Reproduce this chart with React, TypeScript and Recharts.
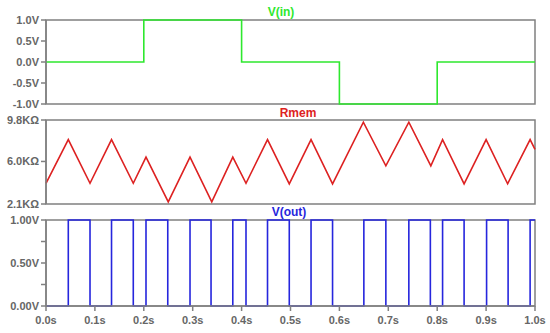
import React from "react";
import { LineChart, Line, XAxis, YAxis, ReferenceArea } from "recharts";

// V(in): step input (stepAfter points)
const vinTimes = [0, 0.2, 0.4, 0.6, 0.8, 1.0];
const vinValues = [0, 1, 0, -1, 0, 0];

// Rmem (KΩ): triangle wave
const rmemTimes = [0, 0.0456, 0.09, 0.134, 0.1785, 0.2045, 0.25, 0.2945, 0.339, 0.382, 0.409, 0.453, 0.4975, 0.542, 0.586, 0.649, 0.695, 0.742, 0.787, 0.811, 0.855, 0.9, 0.944, 0.99, 1.0];
const rmemValues = [4.0, 8.0, 4.0, 8.0, 4.0, 6.4, 2.3, 6.4, 2.3, 6.4, 4.0, 8.0, 3.95, 8.0, 3.95, 9.6, 5.6, 9.6, 5.6, 8.0, 3.95, 8.0, 3.95, 8.0, 7.1];

// V(out): square output (stepAfter points)
const voutTimes = [0, 0.0456, 0.09, 0.134, 0.1785, 0.2045, 0.249, 0.2945, 0.3375, 0.382, 0.409, 0.453, 0.4975, 0.542, 0.586, 0.65, 0.695, 0.742, 0.786, 0.811, 0.855, 0.901, 0.945, 0.99, 1.0];
const voutValues = [0, 1, 0, 1, 0, 1, 0, 1, 0, 1, 0, 1, 0, 1, 0, 1, 0, 1, 0, 1, 0, 1, 0, 1, 1];

const xTicks = [0, 0.1, 0.2, 0.3, 0.4, 0.5, 0.6, 0.7, 0.8, 0.9, 1.0];
const vinTicks = [-1, -0.5, 0, 0.5, 1];
const rmemTicks = [2.1, 6.0, 9.8];
const voutTicks = [0, 0.25, 0.5, 0.75, 1];
const voutLabeled = [0, 0.5, 1];

const vinData = vinTimes.map((t, i) => ({ t, v: vinValues[i] }));
const rmemData = rmemTimes.map((t, i) => ({ t, v: rmemValues[i] }));
const voutData = voutTimes.map((t, i) => ({ t, v: voutValues[i] }));

const GRAY = "#808080";
const tickStyle = { fontSize: 11, fontWeight: "bold" as const, fill: "#666666", fontFamily: "Liberation Sans, Arial, sans-serif" };

const titleStyle = (cx: number, cy: number, color: string): React.CSSProperties => ({
  position: "absolute",
  left: cx - 50,
  width: 100,
  top: cy - 7,
  height: 14,
  lineHeight: "14px",
  textAlign: "center",
  fontSize: 12,
  fontWeight: "bold",
  color,
  fontFamily: "Liberation Sans, Arial, sans-serif",
});

export default function App() {
  return (
    <div style={{ position: "absolute", left: 0, top: 0, width: 550, height: 333, background: "#fff", fontFamily: "Liberation Sans, Arial, sans-serif" }}>
      <LineChart width={550} height={110} data={vinData} margin={{ top: 20, right: 15, bottom: 6, left: 0 }}>
        <XAxis dataKey="t" type="number" domain={[0, 1]} ticks={xTicks} hide />
        <YAxis
          type="number"
          domain={[-1, 1]}
          ticks={vinTicks}
          width={46}
          tick={tickStyle}
          tickSize={5}
          tickLine={{ stroke: GRAY, strokeWidth: 1.5 }}
          axisLine={{ stroke: GRAY, strokeWidth: 1.5 }}
          tickFormatter={(v: number) => v.toFixed(1) + "V"}
          interval={0}
        />
        <ReferenceArea x1={0} x2={1} y1={-1} y2={1} fill="none" fillOpacity={0} stroke={GRAY} strokeWidth={1.5} />
        <Line type="stepAfter" dataKey="v" stroke="#2ee82e" strokeWidth={1.6} dot={false} isAnimationActive={false} />
      </LineChart>
      <LineChart width={550} height={100} data={rmemData} margin={{ top: 10, right: 15, bottom: 6, left: 0 }}>
        <XAxis dataKey="t" type="number" domain={[0, 1]} ticks={xTicks} hide />
        <YAxis
          type="number"
          domain={[2.1, 9.8]}
          ticks={rmemTicks}
          width={46}
          tick={tickStyle}
          tickSize={5}
          tickLine={{ stroke: GRAY, strokeWidth: 1.5 }}
          axisLine={{ stroke: GRAY, strokeWidth: 1.5 }}
          tickFormatter={(v: number) => v.toFixed(1) + "KΩ"}
          interval={0}
          allowDataOverflow
        />
        <ReferenceArea x1={0} x2={1} y1={2.1} y2={9.8} fill="none" fillOpacity={0} stroke={GRAY} strokeWidth={1.5} />
        <Line type="linear" dataKey="v" stroke="#dd2222" strokeWidth={1.6} dot={false} isAnimationActive={false} />
      </LineChart>
      <LineChart width={550} height={123} data={voutData} margin={{ top: 10, right: 15, bottom: 0, left: 0 }}>
        <XAxis
          dataKey="t"
          type="number"
          domain={[0, 1]}
          ticks={xTicks}
          height={27}
          tick={tickStyle}
          tickSize={5}
          tickMargin={5}
          tickLine={{ stroke: GRAY, strokeWidth: 1.5 }}
          axisLine={{ stroke: GRAY, strokeWidth: 1.5 }}
          tickFormatter={(v: number) => v.toFixed(1) + "s"}
          interval={0}
        />
        <YAxis
          type="number"
          domain={[0, 1]}
          ticks={voutTicks}
          width={46}
          tick={tickStyle}
          tickSize={5}
          tickLine={{ stroke: GRAY, strokeWidth: 1.5 }}
          axisLine={{ stroke: GRAY, strokeWidth: 1.5 }}
          tickFormatter={(v: number) => (voutLabeled.includes(v) ? v.toFixed(2) + "V" : "")}
          interval={0}
        />
        <ReferenceArea x1={0} x2={1} y1={0} y2={1} fill="none" fillOpacity={0} stroke={GRAY} strokeWidth={1.5} />
        <Line type="stepAfter" dataKey="v" stroke="#2626dd" strokeWidth={1.6} dot={false} isAnimationActive={false} />
      </LineChart>
      <div style={titleStyle(281, 12, "#2ee82e")}>V(in)</div>
      <div style={titleStyle(298, 113, "#dd2222")}>Rmem</div>
      <div style={titleStyle(289, 212, "#2626dd")}>V(out)</div>
    </div>
  );
}
